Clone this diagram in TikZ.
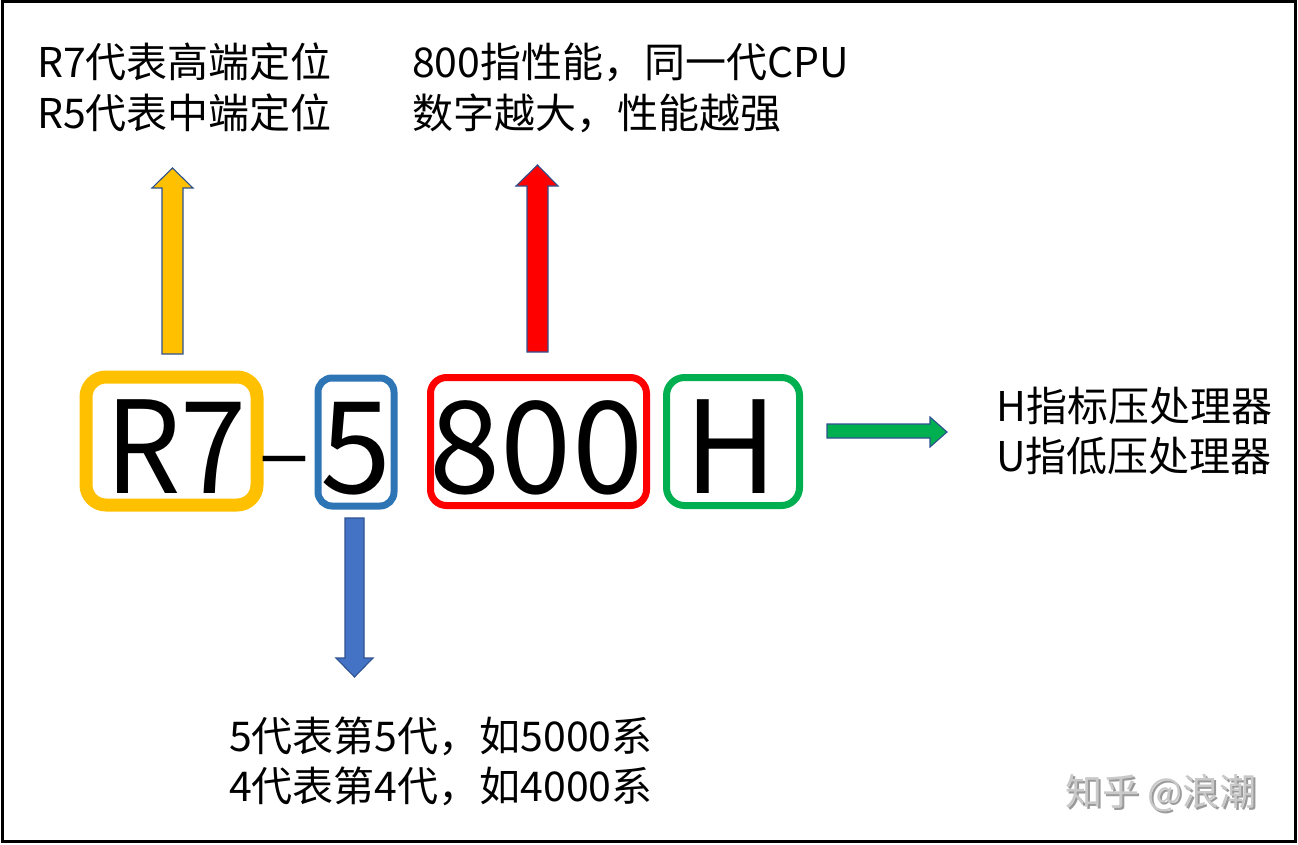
\documentclass[tikz,border=0pt]{standalone}
\usepackage{fontspec}
\setmainfont{Noto Sans CJK SC}
\definecolor{cyellow}{HTML}{FFC000}
\definecolor{cblue}{HTML}{2E75B6}
\definecolor{cred}{HTML}{FF0000}
\definecolor{cgreen}{HTML}{00B050}
\definecolor{afill}{HTML}{4472C4}
\definecolor{aedge}{HTML}{2F528F}
\definecolor{wmark}{HTML}{C9C9C9}
\definecolor{wshadow}{HTML}{9A9A9A}
\begin{document}
\begin{tikzpicture}[x=1pt,y=-1pt,
  box/.style={draw, rounded corners=20pt, inner sep=0pt, minimum height=128pt},
  big/.style={font=\fontsize{128}{128}\selectfont, inner sep=0pt, anchor=base},
  lbl/.style={font=\fontsize{41}{50}\selectfont, inner sep=0pt, anchor=base west},
  wm/.style={font=\fontsize{37}{37}\selectfont, inner sep=0pt, anchor=base west},
  bigarrow/.style={draw=aedge, line width=1.1pt, line join=miter}]
\useasboundingbox (0,0) rectangle (1298,844);
\draw[line width=3pt] (2,1.5) rectangle (1295.5,841);

% boxes
\node[box, draw=cyellow, line width=13pt, minimum width=171pt] (r7box) at (171.5,441) {};
\node[box, draw=cblue, line width=7pt, minimum width=76pt, rounded corners=14pt] (gbox) at (356,442) {};
\node[box, draw=cred, line width=7pt, minimum width=216pt, rounded corners=16pt] (pbox) at (538.5,441.5) {};
\node[box, draw=cgreen, line width=7pt, minimum width=133pt, rounded corners=18pt] (hbox) at (733,441.5) {};

% big text
\node[big, xscale=0.93] (r7) at (176,493) {R7};
\node[big, xscale=1.3, yscale=0.6] (dash) at (284.5,480) {-};
\node[big] (five) at (356,493) {5};
\node[big] (eight) at (536.5,493) {800};
\node[big] (hh) at (731,493) {H};

% arrows
\filldraw[bigarrow, fill=cyellow] (162,354) -- (162,188) -- (152,188) -- (172.5,168) -- (193,188) -- (183,188) -- (183,354) -- cycle;
\filldraw[bigarrow, fill=cred] (527,352) -- (527,186) -- (516,186) -- (537.5,165) -- (558,186) -- (548,186) -- (548,352) -- cycle;
\filldraw[bigarrow, fill=afill] (345,518) -- (345,658) -- (336,658) -- (354.5,677) -- (373,658) -- (364,658) -- (364,518) -- cycle;
\filldraw[bigarrow, fill=cgreen] (827,424) -- (930,424) -- (930,417) -- (947,432) -- (930,447) -- (930,438) -- (827,438) -- cycle;

% labels
\node[lbl] (a1) at (37,77) {R7代表高端定位};
\node[lbl] (a2) at (37,128) {R5代表中端定位};
\node[lbl] (b1) at (412,77) {800指性能，同一代CPU};
\node[lbl] (b2) at (412,128) {数字越大，性能越强};
\node[lbl] (c1) at (996,421) {H指标压处理器};
\node[lbl] (c2) at (996,471) {U指低压处理器};
\node[lbl] (d1) at (229,751) {5代表第5代，如5000系};
\node[lbl] (d2) at (229,801) {4代表第4代，如4000系};

% watermark
\node[wm, text=wshadow] (wms) at (1067,807) {知乎 @浪潮};
\node[wm, text=wmark] (wmk) at (1065,805) {知乎 @浪潮};
\end{tikzpicture}
\end{document}
